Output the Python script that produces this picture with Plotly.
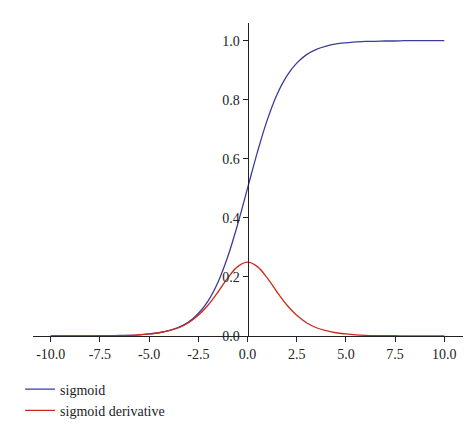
import plotly.graph_objects as go

# values, x step 0.5
x_vals = [-10.0, -9.5, -9.0, -8.5, -8.0, -7.5, -7.0, -6.5, -6.0, -5.5, -5.0, -4.5, -4.0, -3.5,
          -3.0, -2.5, -2.0, -1.5, -1.0, -0.5, 0.0, 0.5, 1.0, 1.5, 2.0, 2.5, 3.0, 3.5, 4.0, 4.5,
          5.0, 5.5, 6.0, 6.5, 7.0, 7.5, 8.0, 8.5, 9.0, 9.5, 10.0]
sigmoid_vals = [0.000, 0.000, 0.000, 0.000, 0.000, 0.001, 0.001, 0.002, 0.002, 0.004, 0.007,
                0.011, 0.018, 0.029, 0.047, 0.076, 0.119, 0.182, 0.269, 0.378, 0.500, 0.622,
                0.731, 0.818, 0.881, 0.924, 0.953, 0.971, 0.982, 0.989, 0.993, 0.996, 0.998,
                0.998, 0.999, 0.999, 1.000, 1.000, 1.000, 1.000, 1.000]
deriv_vals = [0.000, 0.000, 0.000, 0.000, 0.000, 0.001, 0.001, 0.001, 0.002, 0.004, 0.007,
              0.011, 0.018, 0.028, 0.045, 0.070, 0.105, 0.149, 0.197, 0.235, 0.250, 0.235,
              0.197, 0.149, 0.105, 0.070, 0.045, 0.028, 0.018, 0.011, 0.007, 0.004, 0.002,
              0.001, 0.001, 0.001, 0.000, 0.000, 0.000, 0.000, 0.000]
x_ticks = [-10.0, -7.5, -5.0, -2.5, 0.0, 2.5, 5.0, 7.5, 10.0]
x_labels = ["-10.0", "-7.5", "-5.0", "-2.5", "0.0", "2.5", "5.0", "7.5", "10.0"]
y_ticks = [0.0, 0.2, 0.4, 0.6, 0.8, 1.0]

font = dict(family="Liberation Serif, serif", size=14, color="#222")
x_range = [-10.9, 10.95]

fig = go.Figure()
fig.add_trace(go.Scatter(x=x_vals, y=sigmoid_vals, mode="lines", name="sigmoid",
                         line=dict(color="#3c3c9c", width=1.3, shape="spline")))
fig.add_trace(go.Scatter(x=x_vals, y=deriv_vals, mode="lines", name="sigmoid derivative",
                         line=dict(color="#cc2b1c", width=1.3, shape="spline")))

fig.update_layout(
    width=474, height=430,
    margin=dict(l=20, r=19, t=15, b=101),
    paper_bgcolor="white", plot_bgcolor="white",
    font=font,
    showlegend=True,
    legend=dict(x=-0.03, xanchor="left", y=-0.12, yanchor="top", orientation="v",
                font=font, tracegroupgap=0, itemwidth=30, bgcolor="rgba(0,0,0,0)"),
    xaxis=dict(range=x_range, tickvals=x_ticks, ticktext=x_labels, showgrid=False,
               zeroline=False, showline=True, linecolor="#222", linewidth=1,
               ticks="outside", ticklen=5, tickcolor="#222"),
    yaxis=dict(range=[0, 1.06], tickvals=y_ticks, tickformat=".1f", showgrid=False,
               zeroline=False, showline=True, linecolor="#222", linewidth=1,
               ticks="outside", ticklen=5, tickcolor="#222",
               anchor="free", position=(0 - x_range[0]) / (x_range[1] - x_range[0])),
)

fig.write_html("out.html")
